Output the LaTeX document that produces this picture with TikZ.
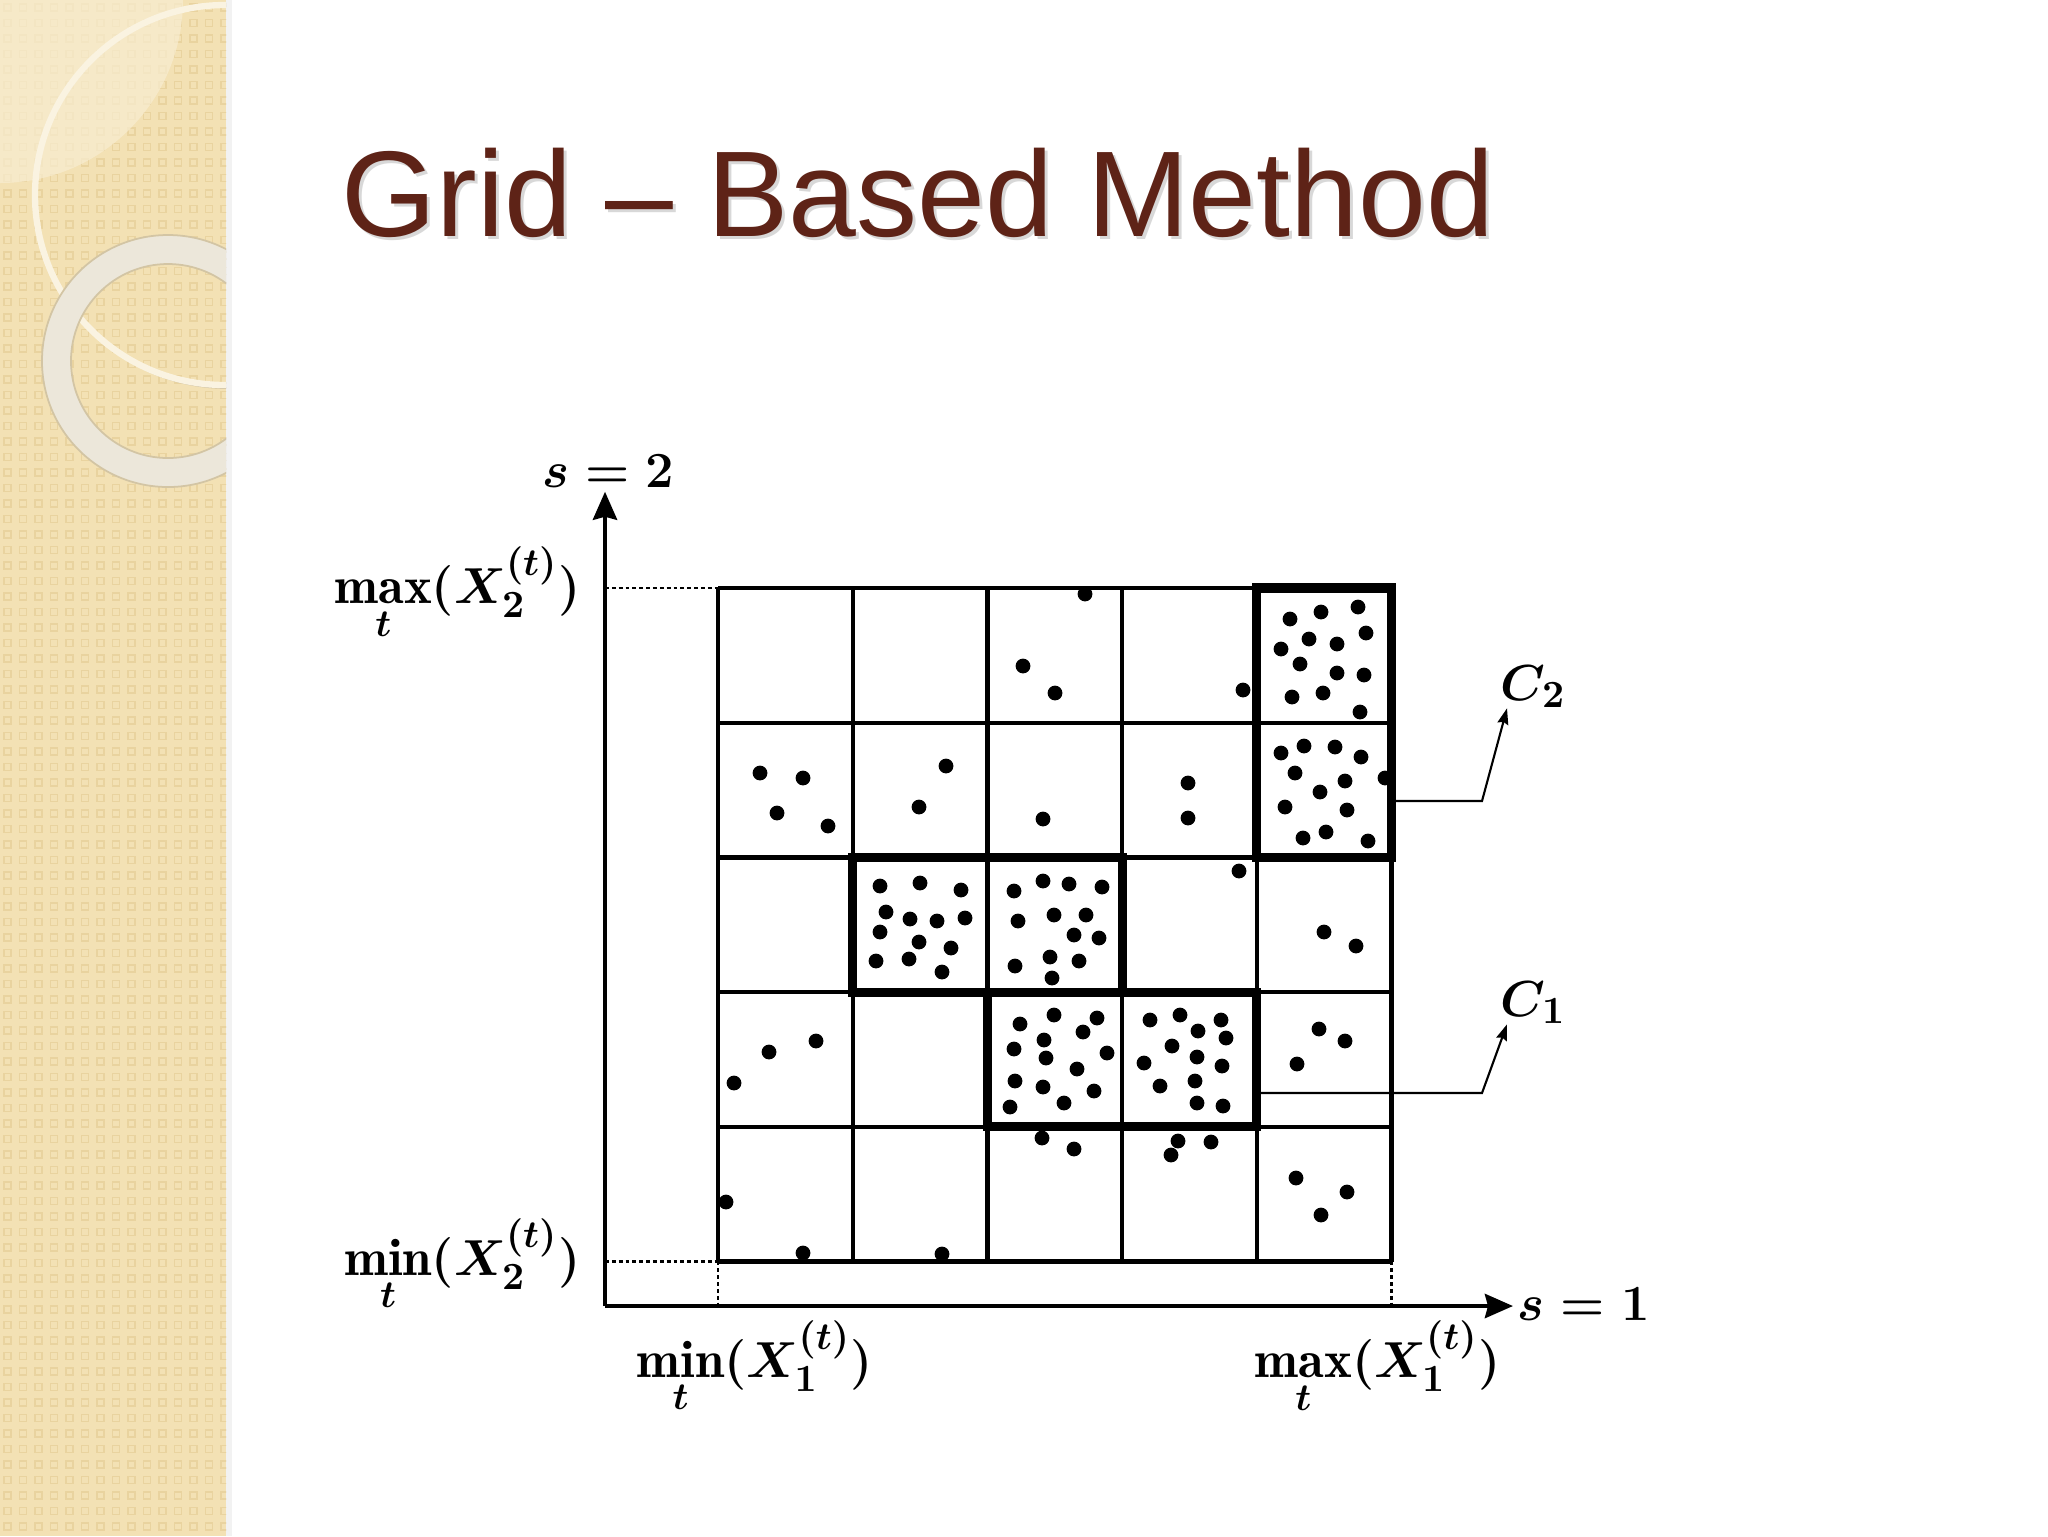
\documentclass[tikz,border=0pt]{standalone}
\usepackage{amsmath}
\usepackage{fontspec}
\newfontfamily\titlefont{Liberation Sans}
\usetikzlibrary{arrows.meta,calc}

\definecolor{stripbg}{HTML}{F3E1B4}
\definecolor{stripsq}{HTML}{E9D39F}
\definecolor{striplight}{HTML}{F8EDD1}
\definecolor{ringfill}{HTML}{ECE7DA}
\definecolor{ringedge}{HTML}{D3C5A4}
\definecolor{titlered}{HTML}{5E2317}

\begin{document}
\begin{tikzpicture}[x=0.1mm,y=-0.1mm,
  gridline/.style={line width=1.2pt},
  cluster/.style={line width=2.6pt},
  guide/.style={line width=0.7pt,dash pattern=on 1.1pt off 0.85pt},
  axis/.style={line width=1.3pt,-{Stealth[length=2.8mm,width=2.4mm,inset=0.3mm]}},
  callout/.style={line width=0.6pt,-{Stealth[length=1.6mm,width=1.1mm,inset=0.2mm]}},
  dot/.style={fill=black},
  lbl/.style={font=\fontsize{15}{18}\selectfont\boldmath,inner sep=0pt},
  titletext/.style={font=\titlefont\fontsize{34.7}{40}\selectfont,inner sep=0pt,anchor=base west}]

  \useasboundingbox (0,0) rectangle (2048,1536);
  \fill[white] (0,0) rectangle (2048,1536);

  % side strip
  \begin{scope}
    \clip (0,0) rectangle (226,1536);
    \fill[stripbg] (0,0) rectangle (226,1536);
    \foreach \i in {0,...,14}
      \foreach \j in {0,...,99}
        \draw[stripsq,line width=0.35pt] (\i*15.5+4,\j*15.5+4) rectangle ++(7,7);
    \fill[striplight,opacity=0.7] (0,0) -- (183,0) arc[start angle=0,end angle=90,radius=183] -- cycle;
    \draw[ringedge,line width=0.5pt] (227,197) circle (191);
    \draw[white!60!stripbg,line width=1.8pt] (225,195) circle (190);
    \fill[ringfill,even odd rule] (168,361) circle (126) (168,361) circle (97);
    \draw[ringedge,line width=0.5pt] (168,361) circle (126) (168,361) circle (97);
  \end{scope}
  \fill[black,opacity=0.05] (226,0) rectangle (232,1536);

  % title
  \node[titletext,text=black!30,opacity=0.5] (titleshadow) at (344,239) {Grid – Based Method};
  \node[titletext,text=titlered] (title) at (341,236) {Grid – Based Method};

  % cells
  \foreach \i in {0,...,5} {
    \draw[gridline] (718+134.7*\i,588) -- (718+134.7*\i,1261.5);
    \draw[gridline] (718,588+134.7*\i) -- (1391.5,588+134.7*\i);
  }
  \draw[cluster] (1256.8,588) rectangle (1391.5,857.4);
  \draw[cluster] (852.7,857.4) rectangle (1122.1,992.1);
  \draw[cluster] (987.4,992.1) rectangle (1256.8,1126.8);

  % points
  \foreach \x/\y in {1085/594,1023/666,1055/693,1243/690,
      1290/619,1321/612,1358/607,1366/633,1309/639,1337/644,1281/649,1300/664,1337/673,1364/675,1292/697,1323/693,1360/712,
      760/773,803/778,777/813,828/826,946/766,919/807,1043/819,1188/783,1188/818,
      1281/753,1304/746,1335/747,1361/757,1295/773,1345/781,1320/792,1385/778,1285/807,1347/810,1303/838,1326/832,1368/841,
      880/886,920/883,961/890,886/912,910/919,937/921,965/918,880/932,919/942,951/948,876/961,909/959,942/972,
      1014/891,1043/881,1069/884,1102/887,1018/921,1054/915,1086/915,1074/935,1099/938,1015/966,1050/957,1079/961,1052/978,
      1239/871,1324/932,1356/946,
      734/1083,769/1052,816/1041,
      1020/1024,1054/1015,1097/1018,1083/1032,1044/1040,1014/1049,1107/1053,1046/1058,1077/1069,1015/1081,1043/1087,1094/1091,1010/1107,1064/1103,
      1150/1020,1180/1015,1221/1020,1198/1031,1226/1038,1172/1046,1197/1057,1144/1063,1222/1066,1160/1086,1195/1081,1197/1103,1223/1106,
      1319/1029,1345/1041,1297/1064,
      726/1202,803/1253,942/1254,1042/1138,1074/1149,1178/1141,1171/1155,1211/1142,1296/1178,1347/1192,1321/1215}
    \fill[dot] (\x,\y) circle (0.74mm);

  % labels
  \node[lbl,anchor=base] (s2) at (608,487) {$s=2$};
  \node[lbl,anchor=base west] (s1) at (1517,1320) {$s=1$};
  \node[lbl,anchor=base east] (ymaxl) at (581,603) {$\displaystyle\max_t(X_2^{(t)})$};
  \node[lbl,anchor=base east] (yminl) at (581,1275) {$\displaystyle\min_t(X_2^{(t)})$};
  \node[lbl,anchor=base west] (xminl) at (636,1377) {$\displaystyle\min_t(X_1^{(t)})$};
  \node[lbl,anchor=base west] (xmaxl) at (1254,1377) {$\displaystyle\max_t(X_1^{(t)})$};
  \node[lbl,anchor=base west] (C2) at (1500,700) {$C_2$};
  \node[lbl,anchor=base west] (C1) at (1500,1016) {$C_1$};

  % axes
  \coordinate (O) at (605,1306);
  \draw[axis] (O) -- ($(O |- s2.south)+(0,4)$);
  \draw[axis] (O) -- ($(O -| s1.west)+(-4,0)$);
  \draw[guide] (O |- 718,588) -- (718,588);
  \draw[guide] (O |- 718,1261.5) -- (718,1261.5);
  \draw[guide] (718,1261.5) -- (718,1306);
  \draw[guide] (1391.5,1261.5) -- (1391.5,1306);

  % callouts
  \coordinate (c2from) at (1391.5,801);
  \coordinate (c2bend) at (1482,801);
  \coordinate (c1from) at (1256.8,1093);
  \coordinate (c1bend) at (1482,1093);
  \draw[callout] (c2from) -- (c2bend) -- ($(C2.south west)+(7,0)$);
  \draw[callout] (c1from) -- (c1bend) -- ($(C1.south west)+(7,0)$);
\end{tikzpicture}
\end{document}
